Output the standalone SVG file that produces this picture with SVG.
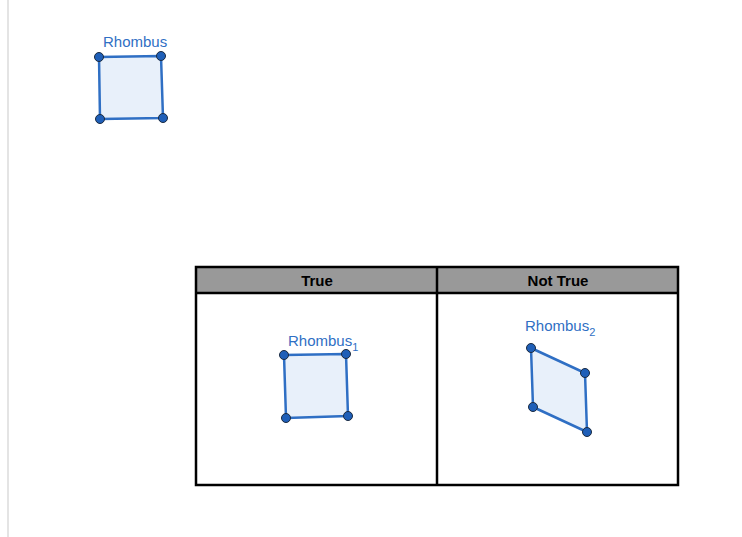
<svg xmlns="http://www.w3.org/2000/svg" width="742" height="537" viewBox="0 0 742 537">
<style>
.shape{fill:#e8f0fa;stroke:#2f6fc4;stroke-width:2.5;stroke-linejoin:round}
.pt{fill:#1f5fb8;stroke:#1a2a40;stroke-width:1}
.lbl{font-family:"Liberation Sans",Arial,sans-serif;font-size:15px;fill:#2f6fc4}
.hd{font-family:"Liberation Sans",Arial,sans-serif;font-size:15px;font-weight:bold;fill:#000;text-anchor:middle}
</style>
<rect width="742" height="537" fill="#fff"/>
<line x1="8" y1="0" x2="8" y2="537" stroke="#e4e4e4" stroke-width="2"/>
<g id="rhombus">
<polygon class="shape" points="99,57 161,56 163,118 100,119"/>
<circle class="pt" cx="99" cy="57" r="4.5"/><circle class="pt" cx="161" cy="56" r="4.5"/><circle class="pt" cx="163" cy="118" r="4.5"/><circle class="pt" cx="100" cy="119" r="4.5"/>
<text class="lbl" x="103" y="47">Rhombus</text>
</g>
<g id="table">
<rect x="196" y="267" width="482" height="26" fill="#999"/>
<rect x="196" y="267" width="482" height="218" fill="none" stroke="#000" stroke-width="2.5"/>
<line x1="196" y1="293" x2="678" y2="293" stroke="#000" stroke-width="2.5"/>
<line x1="437" y1="267" x2="437" y2="485" stroke="#000" stroke-width="2.5"/>
<text class="hd" x="317" y="286">True</text>
<text class="hd" x="558" y="286">Not True</text>
</g>
<g id="rhombus1">
<polygon class="shape" points="284,355 346,354 348,416 286,418"/>
<circle class="pt" cx="284" cy="355" r="4.5"/><circle class="pt" cx="346" cy="354" r="4.5"/><circle class="pt" cx="348" cy="416" r="4.5"/><circle class="pt" cx="286" cy="418" r="4.5"/>
<text class="lbl" x="288" y="346">Rhombus<tspan font-size="11" dy="5">1</tspan></text>
</g>
<g id="rhombus2">
<polygon class="shape" points="531,348 585,373 587,432 533,407"/>
<circle class="pt" cx="531" cy="348" r="4.5"/><circle class="pt" cx="585" cy="373" r="4.5"/><circle class="pt" cx="587" cy="432" r="4.5"/><circle class="pt" cx="533" cy="407" r="4.5"/>
<text class="lbl" x="525" y="331">Rhombus<tspan font-size="11" dy="5">2</tspan></text>
</g>
<g id="connectors"/>
</svg>
